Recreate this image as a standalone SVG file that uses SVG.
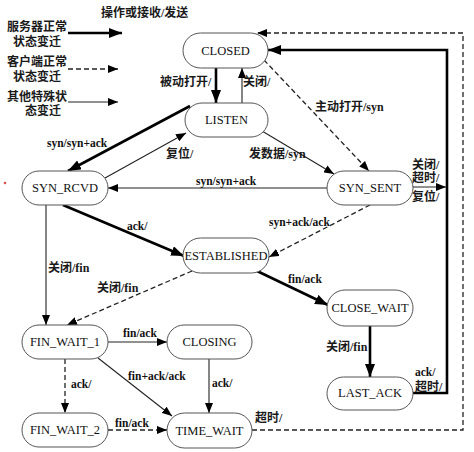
<svg xmlns="http://www.w3.org/2000/svg" width="474" height="452" viewBox="0 0 474 452">
<style>
.node rect{fill:#fff;stroke:#555;stroke-width:1}
.node text{font-family:"Liberation Serif","Noto Sans CJK SC",serif;font-size:12.5px;text-anchor:middle;fill:#111}
.thick{stroke:#000;stroke-width:2.6;fill:none}
.thin{stroke:#222;stroke-width:1.1;fill:none}
.dash{stroke:#222;stroke-width:1.3;fill:none;stroke-dasharray:5,3}
.lbl{font-family:"Liberation Serif","Noto Sans CJK SC",serif;font-size:11.5px;font-weight:bold;fill:#111}
.cn{font-family:"Liberation Serif","Noto Sans CJK SC",serif;font-size:12px;font-weight:bold;fill:#1a1a1a}
</style>
<defs>
<marker id="ah" markerUnits="userSpaceOnUse" markerWidth="13" markerHeight="10" refX="13" refY="5" orient="auto"><path d="M0,0 L13,5 L0,10 z" fill="#000"/></marker>
<marker id="am" markerUnits="userSpaceOnUse" markerWidth="10" markerHeight="8" refX="10" refY="4" orient="auto"><path d="M0,0 L10,4 L0,8 z" fill="#000"/></marker>
</defs>
<rect width="474" height="452" fill="#fff"/>
<circle cx="5" cy="183" r="1.3" fill="#e05050"/>

<g id="legend">
<text class="cn" x="101" y="17">操作或接收/发送</text>
<text class="cn" x="7" y="31">服务器正常</text>
<text class="cn" x="13" y="46">状态变迁</text>
<text class="cn" x="7" y="66">客户端正常</text>
<text class="cn" x="13" y="81">状态变迁</text>
<text class="cn" x="7" y="101">其他特殊状</text>
<text class="cn" x="25" y="115">态变迁</text>
<path class="thick" d="M68,33 L122,33" marker-end="url(#ah)"/>
<path class="dash" d="M68,69 L118,69" marker-end="url(#am)"/>
<path class="thin" d="M68,102 L118,102" marker-end="url(#am)"/>
</g>

<g id="connectors">
<path class="thick" d="M216,68 L216,103" marker-end="url(#ah)"/>
<path class="thin" d="M242,103 L242,68" marker-end="url(#am)"/>
<path class="thick" d="M190,106 L68,171" marker-end="url(#ah)"/>
<path class="thin" d="M105,178 L186,133" marker-end="url(#am)"/>
<path class="thin" d="M262,131 L334,174" marker-end="url(#am)"/>
<path class="dash" d="M264,60 L369,171" marker-end="url(#am)"/>
<path class="thin" d="M327,188 L108,188" marker-end="url(#am)"/>
<path class="thick" d="M63,205 L184,256" marker-end="url(#ah)"/>
<path class="dash" d="M370,205 L269,257" marker-end="url(#am)"/>
<path class="thin" d="M46,205 L46,325" marker-end="url(#am)"/>
<path class="dash" d="M192,271 L67,325" marker-end="url(#am)"/>
<path class="thick" d="M257,271 L328,305" marker-end="url(#ah)"/>
<path class="thick" d="M370,326 L370,377" marker-end="url(#ah)"/>
<path class="thick" d="M413,393 L447,393 L447,50 L268,50" marker-end="url(#ah)"/>
<path class="thin" d="M413,187 L446,187" marker-end="url(#am)"/>
<path class="dash" d="M252,430 L463,430 L463,33 L257,33" marker-end="url(#am)"/>
<path class="thin" d="M108,342 L167,342" marker-end="url(#am)"/>
<path class="thin" d="M98,358 L172,416" marker-end="url(#am)"/>
<path class="thin" d="M209,359 L209,413" marker-end="url(#am)"/>
<path class="dash" d="M65,359 L65,413" marker-end="url(#am)"/>
<path class="dash" d="M108,430 L167,430" marker-end="url(#am)"/>

<text class="cn" x="160" y="86">被动打开/</text>
<text class="cn" x="243" y="86">关闭/</text>
<text class="lbl" x="47" y="147">syn/syn+ack</text>
<text class="cn" x="166" y="158">复位/</text>
<text class="cn" x="249" y="158">发数据/syn</text>
<text class="cn" x="315" y="111">主动打开/syn</text>
<text class="lbl" x="196" y="185">syn/syn+ack</text>
<text class="lbl" x="127" y="230">ack/</text>
<text class="lbl" x="269" y="226">syn+ack/ack</text>
<text class="cn" x="48" y="272">关闭/fin</text>
<text class="cn" x="97" y="292">关闭/fin</text>
<text class="lbl" x="288" y="283">fin/ack</text>
<text class="cn" x="326" y="351">关闭/fin</text>
<text class="lbl" x="415" y="376">ack/</text>
<text class="cn" x="415" y="391">超时/</text>
<text class="cn" x="412" y="169">关闭/</text>
<text class="cn" x="412" y="182">超时/</text>
<text class="cn" x="412" y="201">复位/</text>
<text class="cn" x="255" y="422">超时/</text>
<text class="lbl" x="123" y="337">fin/ack</text>
<text class="lbl" x="128" y="380">fin+ack/ack</text>
<text class="lbl" x="212" y="387">ack/</text>
<text class="lbl" x="71" y="388">ack/</text>
<text class="lbl" x="115" y="427">fin/ack</text>
</g>

<g id="CLOSED" class="node"><rect x="183" y="33" width="85" height="35" rx="17.5"/><text x="225.5" y="55">CLOSED</text></g>
<g id="LISTEN" class="node"><rect x="185" y="103" width="83" height="34" rx="17"/><text x="226.5" y="124">LISTEN</text></g>
<g id="SYN_RCVD" class="node"><rect x="22" y="171" width="86" height="34" rx="17"/><text x="65" y="192">SYN_RCVD</text></g>
<g id="SYN_SENT" class="node"><rect x="327" y="171" width="86" height="34" rx="17"/><text x="370" y="192">SYN_SENT</text></g>
<g id="ESTABLISHED" class="node"><rect x="183" y="238" width="86" height="35" rx="17.5"/><text x="226" y="260">ESTABLISHED</text></g>
<g id="CLOSE_WAIT" class="node"><rect x="327" y="290" width="86" height="36" rx="18"/><text x="370" y="312">CLOSE_WAIT</text></g>
<g id="LAST_ACK" class="node"><rect x="327" y="377" width="86" height="33" rx="16.5"/><text x="370" y="397">LAST_ACK</text></g>
<g id="FIN_WAIT_1" class="node"><rect x="22" y="325" width="86" height="34" rx="17"/><text x="65" y="346">FIN_WAIT_1</text></g>
<g id="CLOSING" class="node"><rect x="167" y="325" width="85" height="34" rx="17"/><text x="209.5" y="346">CLOSING</text></g>
<g id="FIN_WAIT_2" class="node"><rect x="22" y="413" width="86" height="34" rx="17"/><text x="65" y="434">FIN_WAIT_2</text></g>
<g id="TIME_WAIT" class="node"><rect x="167" y="413" width="85" height="35" rx="17.5"/><text x="209.5" y="435">TIME_WAIT</text></g>
</svg>
